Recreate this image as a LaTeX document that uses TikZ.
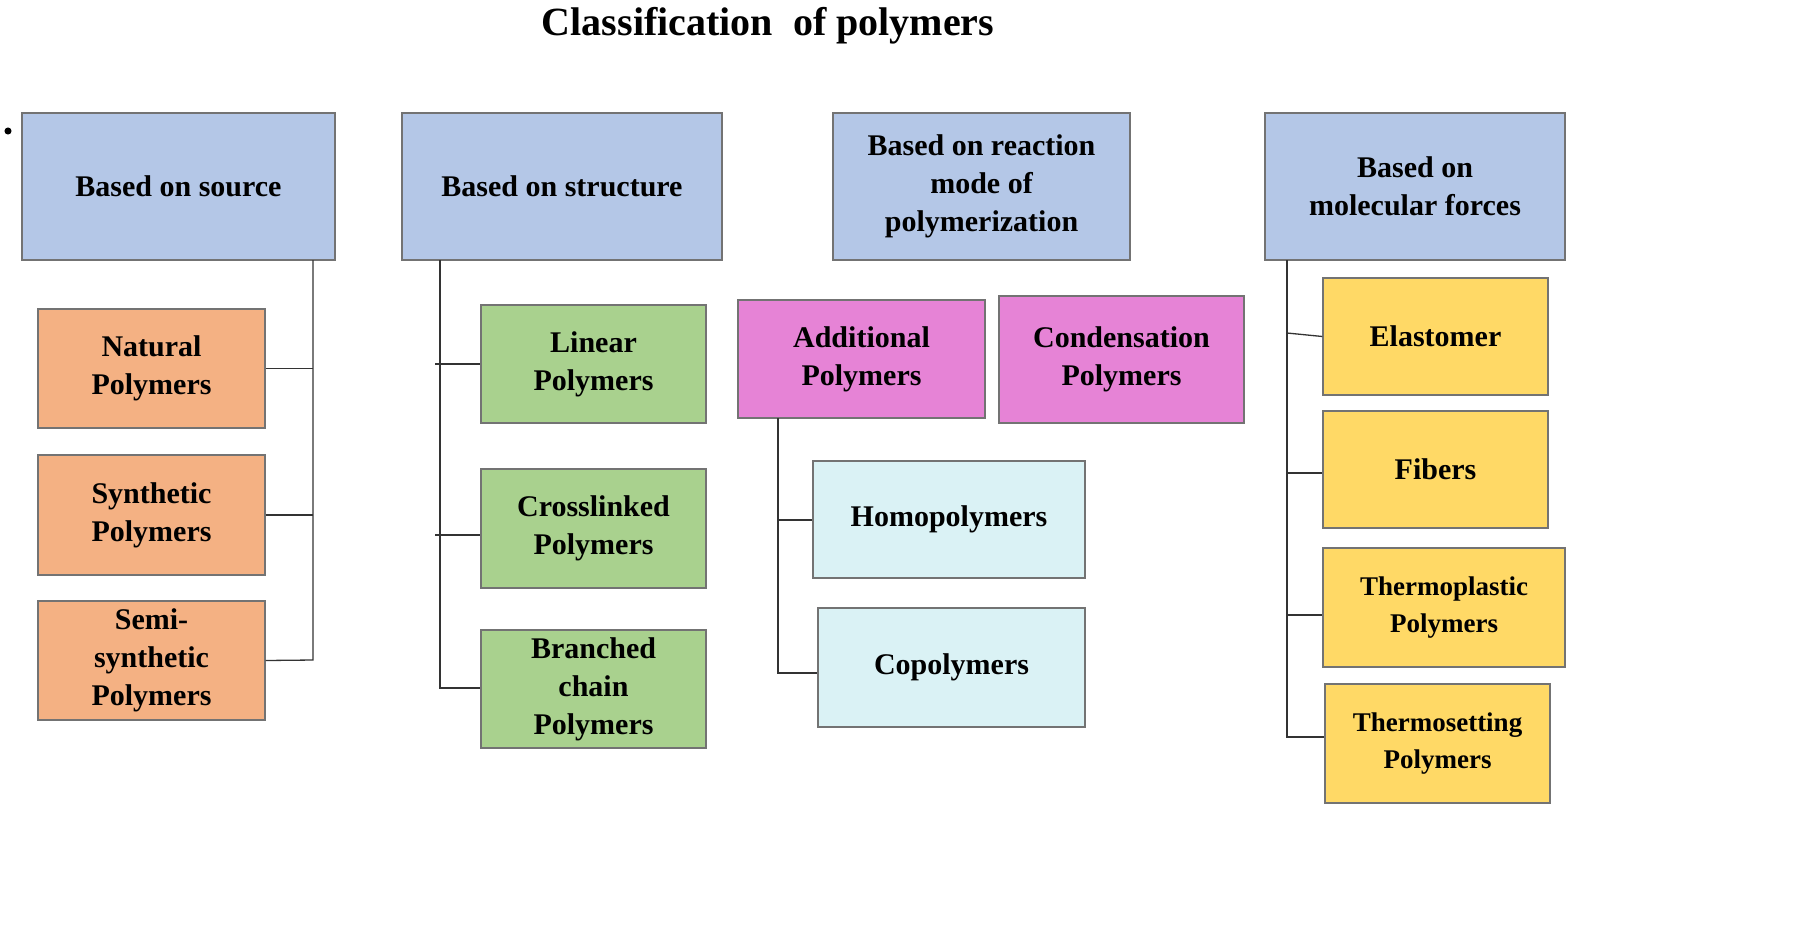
\documentclass[tikz,border=0pt]{standalone}
\usepackage{fontspec}
\setmainfont{Liberation Serif}
\begin{document}
\begin{tikzpicture}[x=1pt,y=-1pt]
\definecolor{cblue}{HTML}{B4C7E7}
\definecolor{corange}{HTML}{F4B183}
\definecolor{cgreen}{HTML}{A9D18E}
\definecolor{cmag}{HTML}{E683D6}
\definecolor{ccyan}{HTML}{DAF2F5}
\definecolor{cyel}{HTML}{FFD966}
\tikzset{bx/.style={draw=black!55,line width=1.2pt,font=\fontsize{30}{38}\selectfont\bfseries,align=center,inner sep=2pt},
 ln/.style={line width=1.3pt,black!80}}
\useasboundingbox (0,0) rectangle (1817,938);
\node[font=\fontsize{40}{44}\selectfont\bfseries] (title) at (768,26) {Classification\ \ of polymers};
\node[circle,fill=black,inner sep=2.5pt] (dot) at (8,131) {};
\node[bx,fill=cblue,minimum width=313,minimum height=147] (s) at (178.5,186.5) {Based on source};
\node[bx,fill=cblue,minimum width=320,minimum height=147] (t) at (562,186.5) {Based on structure};
\node[bx,fill=cblue,minimum width=297,minimum height=147] (r) at (981.5,186.5) {Based on reaction\\mode of\\polymerization};
\node[bx,fill=cblue,minimum width=300,minimum height=147] (m) at (1415,186.5) {Based on\\molecular forces};
\node[bx,fill=corange,minimum width=227,minimum height=119] (s1) at (151.5,368.5) {Natural\\Polymers};
\node[bx,fill=corange,minimum width=227,minimum height=120] (s2) at (151.5,515) {Synthetic\\Polymers};
\node[bx,fill=corange,minimum width=227,minimum height=119] (s3) at (151.5,660.5) {Semi-\\synthetic\\Polymers};
\node[bx,fill=cgreen,minimum width=225,minimum height=118] (t1) at (593.5,364) {Linear\\Polymers};
\node[bx,fill=cgreen,minimum width=225,minimum height=119] (t2) at (593.5,528.5) {Crosslinked\\Polymers};
\node[bx,fill=cgreen,minimum width=225,minimum height=118] (t3) at (593.5,689) {Branched\\chain\\Polymers};
\node[bx,fill=cmag,minimum width=247,minimum height=118] (r1) at (861.5,359) {Additional\\Polymers};
\node[bx,fill=cmag,minimum width=245,minimum height=127] (r2) at (1121.5,359.5) {Condensation\\Polymers};
\node[bx,fill=ccyan,minimum width=272,minimum height=117] (r3) at (949,519.5) {Homopolymers};
\node[bx,fill=ccyan,minimum width=267,minimum height=119] (r4) at (951.5,667.5) {Copolymers};
\node[bx,fill=cyel,minimum width=225,minimum height=117] (m1) at (1435.5,336.5) {Elastomer};
\node[bx,fill=cyel,minimum width=225,minimum height=117] (m2) at (1435.5,469.5) {Fibers};
\node[bx,fill=cyel,minimum width=242,minimum height=119,font=\fontsize{27}{37}\selectfont\bfseries] (m3) at (1444,607.5) {Thermoplastic\\Polymers};
\node[bx,fill=cyel,minimum width=225,minimum height=119,font=\fontsize{27}{37}\selectfont\bfseries] (m4) at (1437.5,743.5) {Thermosetting\\Polymers};
% source
\coordinate (sa) at (313,260); \coordinate (sb) at (313,660);
\draw[ln] (sa) -- (sb) -- (s3.east);
\draw[ln] (s1.east) -- (s1.east -| sa);
\draw[ln] (s2.east) -- (s2.east -| sa);
% structure
\coordinate (ta) at (440,260); \coordinate (tb) at (440,688);
\draw[ln] (ta) -- (tb) -- (tb -| t3.west);
\draw[ln] (435,364) -- (t1.west);
\draw[ln] (435,535) -- (t2.west |- 0,535);
% reaction
\coordinate (ra) at (778,418); \coordinate (rb) at (778,673);
\draw[ln] (ra) -- (rb) -- (rb -| r4.west);
\draw[ln] (778,520) -- (r3.west |- 0,520);
% forces
\coordinate (ma) at (1287,260); \coordinate (mb) at (1287,737);
\draw[ln] (ma) -- (mb) -- (mb -| m4.west);
\draw[ln] (1287,333) -- (m1.west);
\draw[ln] (1287,473) -- (m2.west |- 0,473);
\draw[ln] (1287,615) -- (m3.west |- 0,615);
\end{tikzpicture}
\end{document}
